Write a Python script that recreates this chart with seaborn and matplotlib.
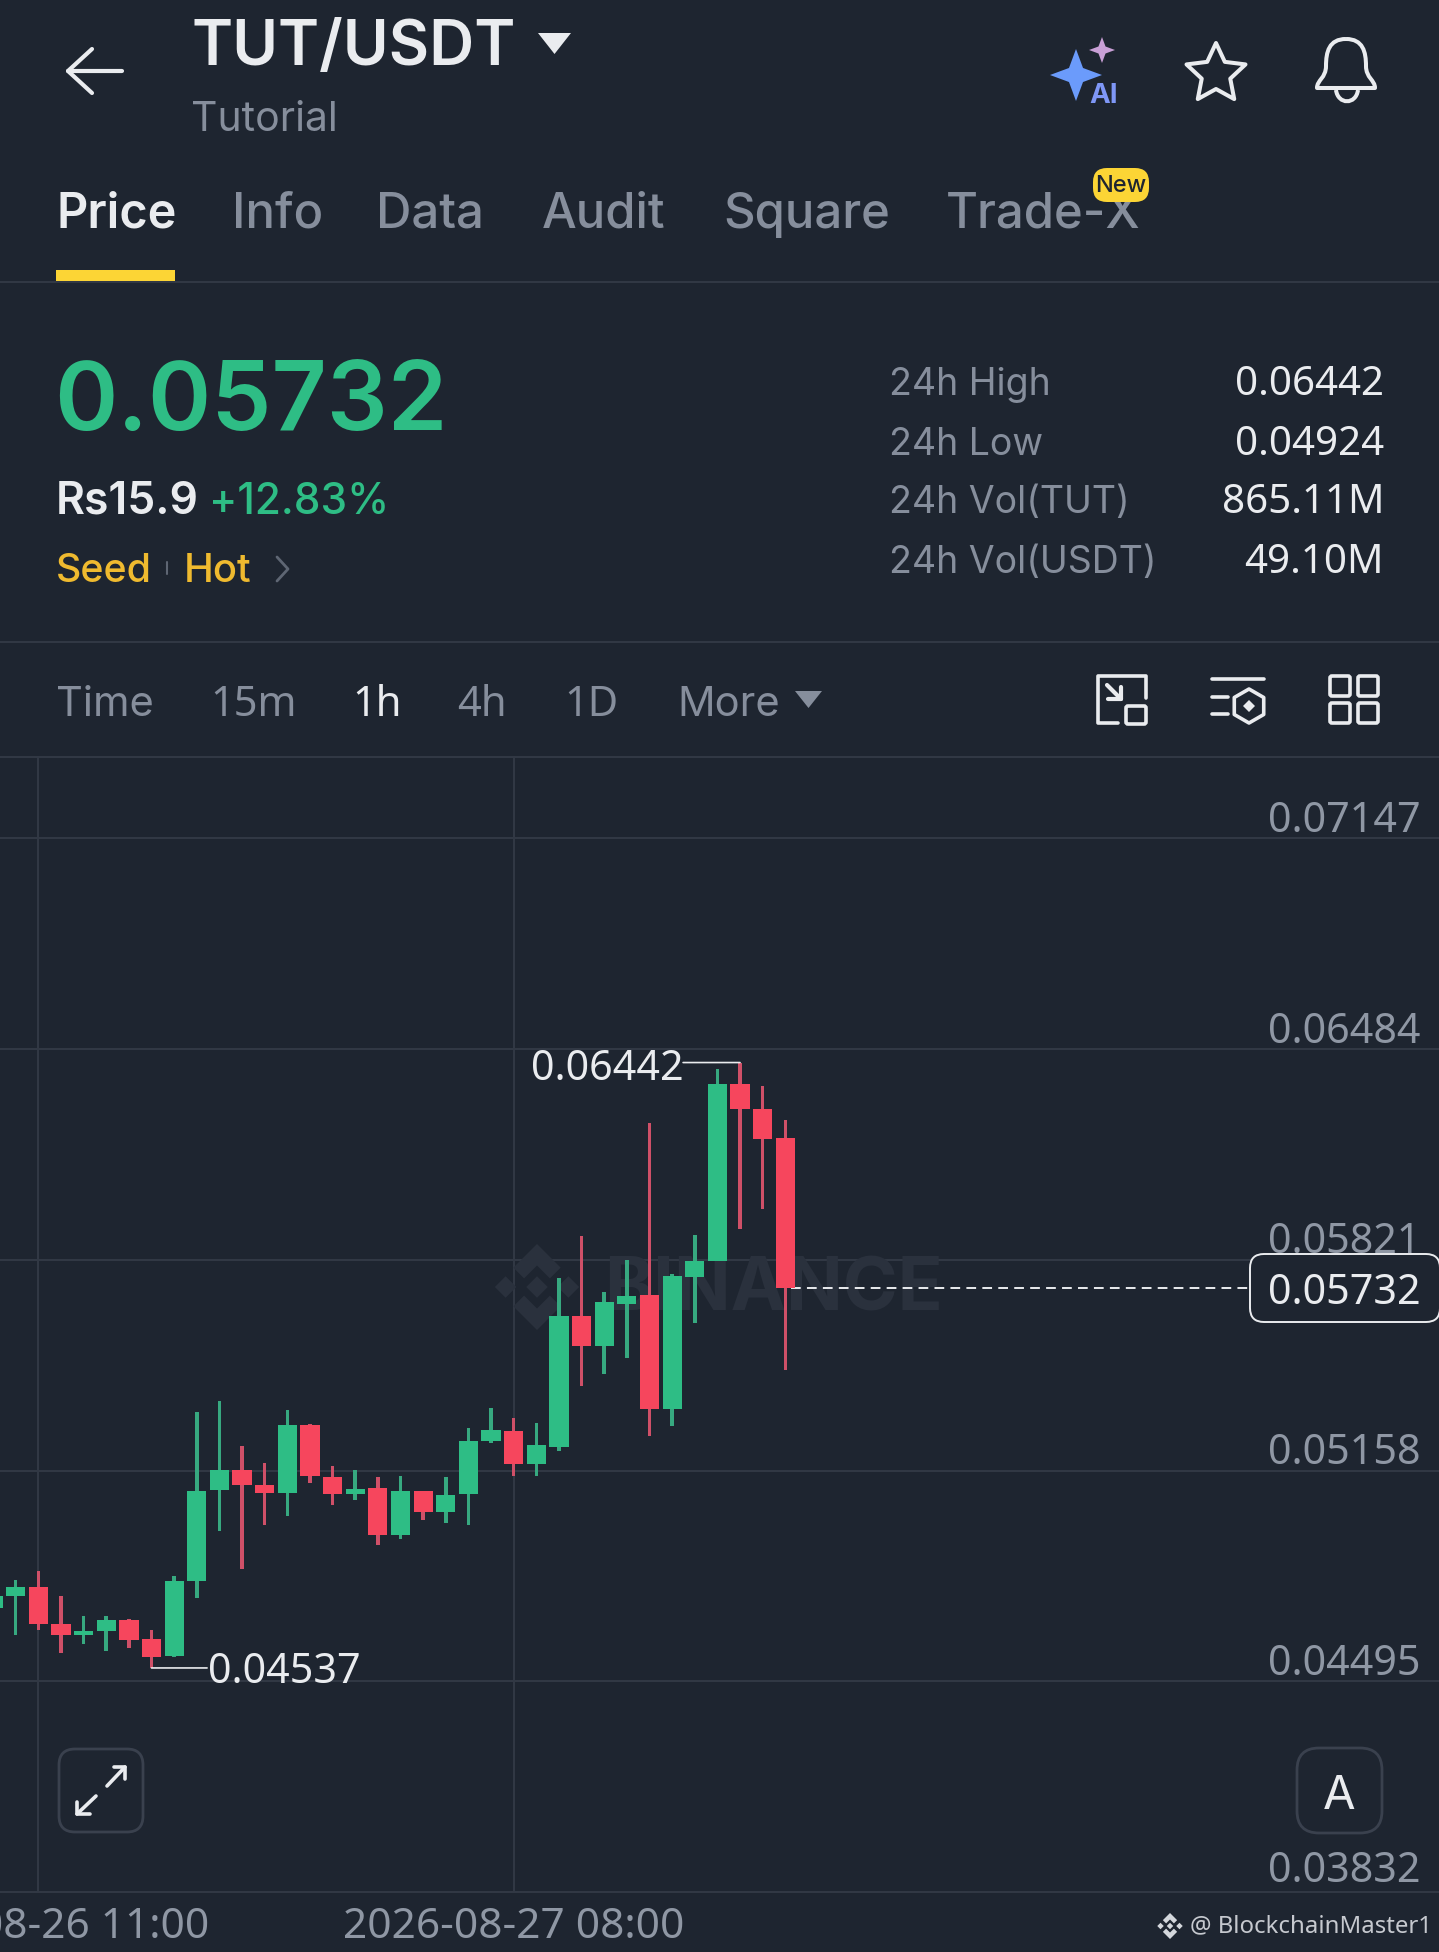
import numpy as np
import pandas as pd
import seaborn as sns
import matplotlib
matplotlib.use("Agg")
import matplotlib.pyplot as plt
from matplotlib.patches import FancyBboxPatch, Polygon, PathPatch, Rectangle
from matplotlib.path import Path
from matplotlib.transforms import blended_transform_factory, ScaledTranslation

# ---- data ----
first_hour = -1
opens = [.04725, .04764, .04791, .04676, .04640, .04652, .04688, .04627, .04575, .04810, .05097, .05160,
         .05114, .05089, .05300, .05139, .05085, .05103, .04954, .05093, .05029, .05083, .05250, .05284,
         .05179, .05232, .05645, .05550, .05683, .05709, .05353, .05767, .05819, .06374, .06295, .06204]
closes = [.04762, .04793, .04676, .04640, .04652, .04688, .04625, .04573, .04811, .05095, .05160, .05114,
          .05089, .05300, .05142, .05085, .05099, .04955, .05093, .05029, .05080, .05250, .05286, .05179,
          .05237, .05645, .05550, .05687, .05708, .05351, .05769, .05817, .06374, .06295, .06201, .05732]
highs = [.04780, .04814, .04843, .04762, .04699, .04701, .04691, .04657, .04827, .05343, .05378, .05236,
         .05183, .05349, .05305, .05173, .05160, .05137, .05142, .05093, .05139, .05292, .05354, .05322,
         .05309, .05764, .05897, .05721, .05821, .06251, .05777, .05899, .06423, .06442, .06367, .06262]
lows = [.04700, .04641, .04657, .04585, .04613, .04590, .04600, .04537, .04573, .04757, .04967, .04848,
        .04988, .05015, .05118, .05050, .05066, .04923, .04944, .05003, .04994, .04986, .05244, .05141,
        .05141, .05221, .05425, .05462, .05511, .05267, .05299, .05624, .05819, .05918, .05980, .05475]
price_ticks = [0.07147, 0.06484, 0.05821, 0.05158, 0.04495, 0.03832]
time_tick_hours = [1, 22]
time_tick_labels = ["2026-08-26 11:00", "2026-08-27 08:00"]
last_price = 0.05732
tabs = ["Price", "Info", "Data", "Audit", "Square", "Trade-X"]
stat_names = ["24h High", "24h Low", "24h Vol(TUT)", "24h Vol(USDT)"]
stat_values = ["0.06442", "0.04924", "865.11M", "49.10M"]
intervals = ["Time", "15m", "1h", "4h", "1D", "More"]

# ---- styles ----
BG = "#1e2530"
GRID = "#323945"
UP, DOWN = "#2ebd85", "#f6465d"
UP_W, DOWN_W = "#37a980", "#cf5068"
WHITE = "#eaecef"
GREY = "#868e9c"
TICK = "#8f97a4"
YEL = "#efba2f"
FONT = "Inter"
NUM = "Noto Sans"
W, H = 1439, 1952

sns.set_theme(style="darkgrid", rc={
    "figure.facecolor": BG, "axes.facecolor": BG, "axes.edgecolor": GRID,
    "grid.color": GRID, "grid.linewidth": 1.4, "axes.linewidth": 1.4,
})
plt.rcParams["font.family"] = [FONT, "DejaVu Sans"]

fig = plt.figure(figsize=(W / 100, H / 100), dpi=100)
top_px, bot_px = 757, 1892
ax = fig.add_axes([0, 1 - bot_px / H, 1, (bot_px - top_px) / H])
ui = fig.add_axes([0, 0, 1, 1], zorder=5)
ui.set_xlim(0, W); ui.set_ylim(H, 0); ui.axis("off"); ui.patch.set_alpha(0)

df = pd.DataFrame({"hour": np.arange(first_hour, first_hour + len(opens)), "open": opens,
                   "close": closes, "high": highs, "low": lows})
df["up"] = df["close"] >= df["open"]
df["body_low"] = df[["open", "close"]].min(axis=1)
df["body"] = (df["open"] - df["close"]).abs()
df["wick"] = df["high"] - df["low"]

for flag, body_c, wick_c in [(True, UP, UP_W), (False, DOWN, DOWN_W)]:
    sub = df[df["up"] == flag]
    sns.barplot(data=sub, x="hour", y="wick", bottom=sub["low"].to_numpy(), native_scale=True,
                width=0.155, color=wick_c, saturation=1, errorbar=None, ax=ax, zorder=3, linewidth=0)
for flag, body_c, wick_c in [(True, UP, UP_W), (False, DOWN, DOWN_W)]:
    sub = df[df["up"] == flag]
    sns.barplot(data=sub, x="hour", y="body", bottom=sub["body_low"].to_numpy(), native_scale=True,
                width=0.85, color=body_c, saturation=1, errorbar=None, ax=ax, zorder=4, linewidth=0)

ax.set_xlim(-0.694, 62.88)
per_px = 0.00663 / 210.7
ax.set_ylim(0.03832, 0.03832 + (bot_px - top_px) * per_px)
ax.set_xlabel(""); ax.set_ylabel("")
ax.set_axisbelow(True)
ax.grid(True)
ax.set_xticks(time_tick_hours, time_tick_labels)
ax.set_yticks(price_ticks, [f"{v:.5f}" for v in price_ticks])
ax.tick_params(axis="x", length=0, pad=10, labelsize=30.5, labelcolor=TICK)
ax.tick_params(axis="y", length=0, pad=-13, labelsize=29.7, labelcolor=TICK, left=False,
               labelleft=False, right=False, labelright=True)
for t in ax.get_xticklabels():
    t.set_family(NUM)
for t in ax.get_yticklabels():
    t.set_ha("right"); t.set_va("bottom"); t.set_family(NUM)
for s in ["left", "right"]:
    ax.spines[s].set_visible(False)

# extreme labels
hi_i = df["high"].idxmax(); lo_i = df["low"].idxmin()
for i_, col, off, ha_, txt_off, txt_dy in [(hi_i, "high", -41, "right", 0.6, -4.5), (lo_i, "low", 40, "left", 0.6, -3.2)]:
    xy = (df.hour[i_], df[col][i_])
    ax.annotate("", xy=xy, xytext=(off, 0), textcoords="offset points", zorder=6,
                arrowprops=dict(arrowstyle="-", color=WHITE, lw=1.2, shrinkA=0, shrinkB=0))
    ax.annotate(f"{df[col][i_]:.5f}", xy=xy, xytext=(off + txt_off, txt_dy), textcoords="offset points", ha=ha_,
                va="center", color=WHITE, fontsize=29.7, zorder=6, family=NUM)

# last price dashed line
tr = blended_transform_factory(ax.transAxes, ax.transData)
ax.plot([791 / W, 1250 / W], [last_price, last_price], transform=tr, color=WHITE, lw=1.4,
        dashes=(5, 3.2), zorder=2)
last_y = bot_px - (last_price - 0.03832) / per_px


def T(x, y, s, c=WHITE, fs=27, w="normal", ha="left", fam=None, target=None, dy=4, **k):
    return (target or ui).text(x, y + dy, s, color=c, fontsize=fs, fontweight=w, ha=ha, va="center",
                               family=[fam or FONT, "DejaVu Sans"], **k)


def L(xs, ys, c=WHITE, lw=2.6, **k):
    ui.plot(xs, ys, color=c, lw=lw, solid_capstyle="round", solid_joinstyle="round", **k)


def RR(x0, y0, x1, y1, r, fc="none", ec=WHITE, lw=2.4, z=3):
    ui.add_patch(FancyBboxPatch((x0 + r, y0 + r), x1 - x0 - 2 * r, y1 - y0 - 2 * r,
                                boxstyle=f"round,pad={r},rounding_size={r}", fc=fc, ec=ec, lw=lw, zorder=z))


def sparkle(cx, cy, rx, ry, c, k=0.27):
    ui.add_patch(Polygon([(cx, cy - ry), (cx + rx * k, cy - ry * k), (cx + rx, cy), (cx + rx * k, cy + ry * k),
                          (cx, cy + ry), (cx - rx * k, cy + ry * k), (cx - rx, cy), (cx - rx * k, cy - ry * k)],
                         closed=True, fc=c, ec="none"))


def binance_logo(cx, cy, r, c, artist_ax, z=1.5):
    tf = ui.transData
    def P(pts):
        artist_ax.add_patch(Polygon([(cx + a * r, cy + b * r) for a, b in pts], closed=True, fc=c, ec="none",
                                    transform=tf, zorder=z, clip_on=False))
    P([(0, -.25), (.25, 0), (0, .25), (-.25, 0)])
    P([(-.98, 0), (-.73, -.25), (-.48, 0), (-.73, .25)])
    P([(.98, 0), (.73, -.25), (.48, 0), (.73, .25)])
    P([(0, -1), (.55, -.45), (.3, -.2), (0, -.5), (-.3, -.2), (-.55, -.45)])
    P([(0, 1), (.55, .45), (.3, .2), (0, .5), (-.3, .2), (-.55, .45)])


# centre watermark
binance_logo(537, 1287, 43, "#2a313d", ax)
ax.text(604, 1291, "BINANCE", transform=ui.transData, color="#2a313d", fontsize=53.5, fontweight="bold",
        va="center", ha="left", zorder=1.5, family=FONT, clip_on=False)

# header
L([122, 68, 92], [71, 71, 49], lw=3); L([68, 92], [71, 93], lw=3)
T(191, 43, "TUT/USDT", fs=44.9, w="semibold", dy=5)
ui.add_patch(Polygon([(538, 33), (571, 33), (554.5, 54)], closed=True, fc=WHITE, ec="none"))
T(191, 116, "Tutorial", GREY, 29.5)
sparkle(1076, 75, 26, 26, "#6b9bfb"); sparkle(1102, 50, 13, 13, "#c9a0d6")
T(1104, 95, "AI", "#7f97f6", 20, "bold", ha="center", dy=1)
ang = np.deg2rad(np.arange(-90, 270, 36))
rad = np.where(np.arange(10) % 2 == 0, 31, 15)
ui.add_patch(Polygon(np.c_[1216 + rad * np.cos(ang), 74 + rad * np.sin(ang)], closed=True, fc="none",
                     ec=WHITE, lw=2.9, joinstyle="round"))
bell = Path([(1346, 39),
             (1329, 39), (1326, 52), (1326, 66),
             (1326, 78), (1317, 80), (1317, 88),
             (1375, 88),
             (1375, 80), (1366, 78), (1366, 66),
             (1366, 52), (1363, 39), (1346, 39)],
            [1, 4, 4, 4, 4, 4, 4, 2, 4, 4, 4, 4, 4, 4])
ui.add_patch(PathPatch(bell, fc="none", ec=WHITE, lw=2.9, joinstyle="round"))
ui.add_patch(PathPatch(Path([(1336, 90), (1338, 105), (1356, 105), (1358, 90)], [1, 4, 4, 4]), fc="none", ec=WHITE, lw=2.9))

# tabs
tab_x = [56, 232, 376, 542, 723, 946]
for i, (name, x) in enumerate(zip(tabs, tab_x)):
    T(x, 211, name, WHITE if i == 0 else GREY, 35 if i == 0 else 35.3, "semibold" if i == 0 else "medium")
ui.add_patch(Rectangle((56, 270), 119, 11, fc="#fcd535", ec="none"))
RR(1093, 168, 1149, 202, 14, fc="#fcd535", ec="none", lw=0, z=6)
T(1121, 185, "New", "#1e2530", 17, "medium", ha="center", dy=1, zorder=7)
for y in [282, 642, 757]:
    ui.plot([0, W], [y, y], color=GRID, lw=1.4)

# price block
T(54, 396, f"{last_price:.5f}", UP, 69, "semibold", dy=9)
T(56, 498, "Rs15.9", WHITE, 32, "semibold")
T(209, 498, "+12.83%", UP, 30.5, "medium")
T(56, 568, "Seed", YEL, 28.3, "medium")
L([167, 167], [562, 574], "#5e6673", 1.5)
T(184, 568, "Hot", YEL, 28.8, "medium")
L([277, 288, 277], [557, 569, 581], "#5e6673", 2)
for name, val, y in zip(stat_names, stat_values, [381, 441, 499, 559]):
    T(889, y, name, GREY, 27)
    T(1384, y, val, WHITE, 29, "semibold", ha="right", fam=NUM, dy=4)

# interval row
row_x = [56, 210, 352, 457, 564, 677]
for name, x in zip(intervals, row_x):
    has_digit = any(ch.isdigit() for ch in name)
    T(x, 701, name, WHITE if name == "1h" else GREY, 30, "medium" if name == "1h" else "normal",
      fam=NUM if has_digit else None, dy=3.5 if has_digit else 4)
ui.add_patch(Polygon([(795, 691), (822, 691), (808.5, 708)], closed=True, fc=GREY, ec="none"))

# toolbar icons
L([1146, 1146, 1098, 1098, 1118], [698, 676, 676, 723, 723], lw=2.6)
RR(1126, 706, 1146, 724, 2, lw=2.6)
L([1107, 1121], [685, 699], lw=3); L([1121, 1121, 1108], [687, 699, 699], lw=3)
L([1212, 1264], [679, 679], lw=2.6); L([1212, 1228], [697, 697], lw=2.6); L([1212, 1228], [714, 714], lw=2.6)
hexa = np.deg2rad(np.arange(-90, 270, 60))
ui.add_patch(Polygon(np.c_[1249 + 17 * np.cos(hexa), 706 + 17 * np.sin(hexa)], closed=True, fc="none", ec=WHITE, lw=2.6, joinstyle="round"))
ui.add_patch(Polygon([(1249, 700), (1255, 706), (1249, 712), (1243, 706)], closed=True, fc=WHITE, ec="none"))
for x0 in [1330, 1358]:
    for y0 in [676, 703]:
        RR(x0, y0, x0 + 20, y0 + 20, 2, lw=2.6)

# chart buttons
RR(59, 1749, 143, 1832, 16, ec="#3a414e", lw=2)
L([107, 125], [1786, 1767], lw=2.6)
L([114, 125, 125], [1767, 1767, 1779], lw=2.6)
L([96, 77], [1796, 1814], lw=2.6)
L([77, 77, 90], [1802, 1814, 1814], lw=2.6)
RR(1297, 1748, 1382, 1833, 22, ec="#3a414e", lw=2)
T(1339, 1792, "A", WHITE, 34, ha="center", dy=5)

# last price tag
RR(1250, 1254, 1440, 1322, 14, fc=BG, ec=WHITE, lw=1.4, z=4)
T(1421, last_y, f"{last_price:.5f}", WHITE, 29.7, ha="right", fam=NUM, dy=5, zorder=6)

# attribution
ui.add_patch(Rectangle((1150, 1900), 289, 50, fc=BG, ec="none", zorder=4))
binance_logo(1170, 1926, 13, "#d4d7dc", ui, z=5)
T(1190, 1926, "@ BlockchainMaster1", "#c6c9cf", 17.25, fam=NUM, dy=0, zorder=5)

# nudge the price labels, all but the lowest, to sit as in the app
for t in ax.get_yticklabels()[:-1]:
    t.set_transform(t.get_transform() + ScaledTranslation(0, -2.4 / 72, fig.dpi_scale_trans))

fig.savefig("out.png", dpi=100, facecolor=BG)
